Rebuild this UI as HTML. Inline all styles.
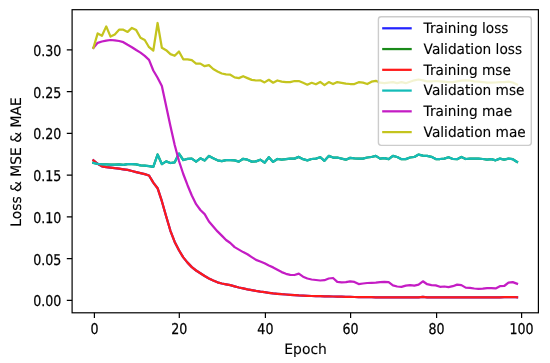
<!DOCTYPE html>
<html><head><meta charset="utf-8"><title>Loss plot</title>
<style>html,body{margin:0;padding:0;background:#fff;width:550px;height:363px;overflow:hidden}svg{display:block}</style>
</head><body>
<svg width="550" height="363" viewBox="0 0 550 363"><rect x="0" y="0" width="550" height="363" fill="#fff"/><g><defs><clipPath id="ax"><rect x="72.1" y="9.7" width="466.29999999999995" height="303.1"/></clipPath></defs>
<g clip-path="url(#ax)" fill="none" stroke-width="2.25" stroke-linejoin="round" stroke-linecap="square">
<polyline stroke="#2424ff" points="93.40,160.30 97.68,163.80 101.96,166.30 106.24,167.10 110.52,167.60 114.80,168.20 119.07,168.70 123.35,169.30 127.63,169.90 131.91,171.00 136.19,172.10 140.47,173.10 144.75,174.20 149.03,175.50 153.31,182.60 157.59,188.20 161.86,201.20 166.14,216.30 170.42,230.80 174.70,241.90 178.98,250.20 183.26,257.40 187.54,262.60 191.82,267.10 196.10,270.50 200.38,273.30 204.65,276.00 208.93,278.40 213.21,280.50 217.49,282.30 221.77,283.50 226.05,284.30 230.33,285.20 234.61,286.30 238.89,287.50 243.16,288.40 247.44,289.30 251.72,290.10 256.00,290.90 260.28,291.60 264.56,292.20 268.84,292.80 273.12,293.40 277.40,293.80 281.68,294.20 285.96,294.50 290.23,294.80 294.51,295.10 298.79,295.40 303.07,295.60 307.35,295.80 311.63,296.00 315.91,296.10 320.19,296.20 324.47,296.30 328.75,296.40 333.02,296.50 337.30,296.60 341.58,296.70 345.86,296.80 350.14,296.90 354.42,297.00 358.70,297.10 362.98,297.10 367.26,297.20 371.53,297.20 375.81,297.30 380.09,297.30 384.37,297.30 388.65,297.30 392.93,297.30 397.21,297.30 401.49,297.30 405.77,297.30 410.05,297.30 414.33,297.30 418.60,297.30 422.88,296.80 427.16,297.40 431.44,297.40 435.72,297.40 440.00,297.40 444.28,297.40 448.56,297.40 452.84,297.40 457.12,297.40 461.39,297.40 465.67,297.40 469.95,297.40 474.23,297.40 478.51,297.40 482.79,297.40 487.07,297.40 491.35,297.40 495.63,297.40 499.90,297.40 504.18,297.20 508.46,297.00 512.74,297.00 517.02,297.20"/>
<polyline stroke="#1a8a1a" points="93.40,162.80 97.68,163.80 101.96,164.30 106.24,164.30 110.52,164.60 114.80,164.60 119.07,164.30 123.35,164.90 127.63,164.10 131.91,164.10 136.19,164.30 140.47,165.40 144.75,165.70 149.03,166.10 153.31,166.80 157.59,154.50 161.86,164.10 166.14,161.40 170.42,163.00 174.70,162.30 178.98,153.60 183.26,160.00 187.54,158.90 191.82,158.60 196.10,161.60 200.38,158.30 204.65,160.50 208.93,155.90 213.21,158.30 217.49,160.30 221.77,161.10 226.05,160.10 230.33,160.10 234.61,160.30 238.89,161.60 243.16,158.80 247.44,159.70 251.72,161.60 256.00,161.40 260.28,159.70 264.56,162.70 268.84,157.20 273.12,161.90 277.40,159.00 281.68,159.70 285.96,159.20 290.23,158.60 294.51,158.60 298.79,156.90 303.07,159.20 307.35,160.30 311.63,159.00 315.91,158.60 320.19,157.20 324.47,160.80 328.75,155.90 333.02,157.50 337.30,157.50 341.58,158.60 345.86,159.70 350.14,157.90 354.42,158.30 358.70,158.60 362.98,158.60 367.26,157.50 371.53,157.00 375.81,155.90 380.09,158.60 384.37,158.10 388.65,159.20 392.93,155.90 397.21,157.00 401.49,159.20 405.77,159.10 410.05,157.50 414.33,157.00 418.60,154.60 422.88,155.70 427.16,155.90 431.44,156.80 435.72,159.00 440.00,159.00 444.28,158.60 448.56,157.20 452.84,159.00 457.12,159.20 461.39,157.00 465.67,159.00 469.95,158.60 474.23,158.60 478.51,158.60 482.79,159.00 487.07,159.70 491.35,159.20 495.63,160.30 499.90,158.60 504.18,159.70 508.46,158.60 512.74,159.20 517.02,161.90"/>
<polyline stroke="#ff1a1a" points="93.40,160.30 97.68,163.80 101.96,166.30 106.24,167.10 110.52,167.60 114.80,168.20 119.07,168.70 123.35,169.30 127.63,169.90 131.91,171.00 136.19,172.10 140.47,173.10 144.75,174.20 149.03,175.50 153.31,182.60 157.59,188.20 161.86,201.20 166.14,216.30 170.42,230.80 174.70,241.90 178.98,250.20 183.26,257.40 187.54,262.60 191.82,267.10 196.10,270.50 200.38,273.30 204.65,276.00 208.93,278.40 213.21,280.50 217.49,282.30 221.77,283.50 226.05,284.30 230.33,285.20 234.61,286.30 238.89,287.50 243.16,288.40 247.44,289.30 251.72,290.10 256.00,290.90 260.28,291.60 264.56,292.20 268.84,292.80 273.12,293.40 277.40,293.80 281.68,294.20 285.96,294.50 290.23,294.80 294.51,295.10 298.79,295.40 303.07,295.60 307.35,295.80 311.63,296.00 315.91,296.10 320.19,296.20 324.47,296.30 328.75,296.40 333.02,296.50 337.30,296.60 341.58,296.70 345.86,296.80 350.14,296.90 354.42,297.00 358.70,297.10 362.98,297.10 367.26,297.20 371.53,297.20 375.81,297.30 380.09,297.30 384.37,297.30 388.65,297.30 392.93,297.30 397.21,297.30 401.49,297.30 405.77,297.30 410.05,297.30 414.33,297.30 418.60,297.30 422.88,296.80 427.16,297.40 431.44,297.40 435.72,297.40 440.00,297.40 444.28,297.40 448.56,297.40 452.84,297.40 457.12,297.40 461.39,297.40 465.67,297.40 469.95,297.40 474.23,297.40 478.51,297.40 482.79,297.40 487.07,297.40 491.35,297.40 495.63,297.40 499.90,297.40 504.18,297.20 508.46,297.00 512.74,297.00 517.02,297.20"/>
<polyline stroke="#14bcb8" points="93.40,162.80 97.68,163.80 101.96,164.30 106.24,164.30 110.52,164.60 114.80,164.60 119.07,164.30 123.35,164.90 127.63,164.10 131.91,164.10 136.19,164.30 140.47,165.40 144.75,165.70 149.03,166.10 153.31,166.80 157.59,154.50 161.86,164.10 166.14,161.40 170.42,163.00 174.70,162.30 178.98,153.60 183.26,160.00 187.54,158.90 191.82,158.60 196.10,161.60 200.38,158.30 204.65,160.50 208.93,155.90 213.21,158.30 217.49,160.30 221.77,161.10 226.05,160.10 230.33,160.10 234.61,160.30 238.89,161.60 243.16,158.80 247.44,159.70 251.72,161.60 256.00,161.40 260.28,159.70 264.56,162.70 268.84,157.20 273.12,161.90 277.40,159.00 281.68,159.70 285.96,159.20 290.23,158.60 294.51,158.60 298.79,156.90 303.07,159.20 307.35,160.30 311.63,159.00 315.91,158.60 320.19,157.20 324.47,160.80 328.75,155.90 333.02,157.50 337.30,157.50 341.58,158.60 345.86,159.70 350.14,157.90 354.42,158.30 358.70,158.60 362.98,158.60 367.26,157.50 371.53,157.00 375.81,155.90 380.09,158.60 384.37,158.10 388.65,159.20 392.93,155.90 397.21,157.00 401.49,159.20 405.77,159.10 410.05,157.50 414.33,157.00 418.60,154.60 422.88,155.70 427.16,155.90 431.44,156.80 435.72,159.00 440.00,159.00 444.28,158.60 448.56,157.20 452.84,159.00 457.12,159.20 461.39,157.00 465.67,159.00 469.95,158.60 474.23,158.60 478.51,158.60 482.79,159.00 487.07,159.70 491.35,159.20 495.63,160.30 499.90,158.60 504.18,159.70 508.46,158.60 512.74,159.20 517.02,161.90"/>
<polyline stroke="#c41cc4" points="93.40,47.80 97.68,42.80 101.96,41.50 106.24,40.60 110.52,40.00 114.80,40.30 119.07,41.00 123.35,42.20 127.63,44.80 131.91,47.20 136.19,50.00 140.47,52.60 144.75,55.90 149.03,59.80 153.31,70.50 157.59,77.80 161.86,86.00 166.14,106.00 170.42,126.00 174.70,145.00 178.98,161.00 183.26,174.00 187.54,185.20 191.82,195.50 196.10,204.20 200.38,210.00 204.65,214.10 208.93,221.50 213.21,226.50 217.49,231.40 221.77,235.60 226.05,240.00 230.33,243.00 234.61,247.10 238.89,249.60 243.16,252.10 247.44,254.30 251.72,257.10 256.00,259.90 260.28,261.50 264.56,263.30 268.84,265.50 273.12,267.40 277.40,269.80 281.68,272.10 285.96,273.80 290.23,274.80 294.51,275.00 298.79,273.60 303.07,276.70 307.35,278.50 311.63,279.50 315.91,280.00 320.19,280.50 324.47,280.20 328.75,278.50 333.02,278.00 337.30,281.90 341.58,282.40 345.86,282.10 350.14,281.30 354.42,281.90 358.70,284.10 362.98,283.50 367.26,283.00 371.53,282.80 375.81,282.60 380.09,282.10 384.37,281.80 388.65,282.10 392.93,285.40 397.21,286.50 401.49,286.80 405.77,285.70 410.05,285.10 414.33,285.70 418.60,284.60 422.88,281.30 427.16,284.20 431.44,285.10 435.72,285.40 440.00,286.80 444.28,286.50 448.56,287.10 452.84,286.20 457.12,284.60 461.39,285.10 465.67,287.60 469.95,287.90 474.23,288.50 478.51,288.80 482.79,288.70 487.07,288.20 491.35,288.20 495.63,288.40 499.90,286.20 504.18,286.00 508.46,282.60 512.74,282.10 517.02,283.70"/>
<polyline stroke="#c4c41e" points="93.40,47.80 97.68,33.40 101.96,35.70 106.24,26.40 110.52,36.60 114.80,34.40 119.07,29.70 123.35,29.70 127.63,31.90 131.91,27.90 136.19,30.10 140.47,37.80 144.75,40.00 149.03,47.20 153.31,50.50 157.59,23.00 161.86,47.70 166.14,50.20 170.42,54.10 174.70,55.80 178.98,51.50 183.26,59.30 187.54,59.30 191.82,60.20 196.10,63.60 200.38,63.60 204.65,66.20 208.93,65.10 213.21,69.00 217.49,71.40 221.77,73.50 226.05,74.30 230.33,74.70 234.61,77.40 238.89,78.10 243.16,76.20 247.44,78.10 251.72,79.90 256.00,80.50 260.28,80.30 264.56,82.40 268.84,79.80 273.12,82.70 277.40,80.50 281.68,81.70 285.96,82.20 290.23,82.20 294.51,81.00 298.79,81.00 303.07,82.80 307.35,84.70 311.63,82.80 315.91,84.30 320.19,81.90 324.47,85.20 328.75,82.10 333.02,84.10 337.30,82.10 341.58,82.80 345.86,83.70 350.14,84.00 354.42,84.00 358.70,82.20 362.98,82.70 367.26,84.00 371.53,81.70 375.81,80.80 380.09,82.70 384.37,83.20 388.65,82.70 392.93,82.20 397.21,83.20 401.49,82.20 405.77,83.20 410.05,81.70 414.33,80.30 418.60,79.50 422.88,80.30 427.16,81.30 431.44,81.30 435.72,81.00 440.00,81.30 444.28,81.70 448.56,82.20 452.84,82.20 457.12,81.30 461.39,80.70 465.67,80.30 469.95,80.70 474.23,81.30 478.51,81.70 482.79,82.20 487.07,82.70 491.35,82.70 495.63,82.50 499.90,82.20 504.18,82.20 508.46,81.70 512.74,82.50 517.02,84.60"/>
</g>
<rect x="72.1" y="9.7" width="466.29999999999995" height="303.1" fill="none" stroke="#000" stroke-width="1.2" stroke-linejoin="miter"/>
<path d="M94.40,312.8v5.3M179.30,312.8v5.3M265.40,312.8v5.3M350.60,312.8v5.3M436.60,312.8v5.3M521.60,312.8v5.3M72.1,300.30h-5.3M72.1,258.55h-5.3M72.1,216.80h-5.3M72.1,175.05h-5.3M72.1,133.30h-5.3M72.1,91.55h-5.3M72.1,49.80h-5.3" stroke="#000" stroke-width="1.2" fill="none"/>
<g font-family="DejaVu Sans, Liberation Sans, sans-serif" font-size="13.89" fill="#000" stroke="#000" stroke-width="0.25" text-rendering="geometricPrecision"><text transform="translate(94.40,334.00) scale(0.91,1.07)" text-anchor="middle">0</text><text transform="translate(179.30,334.00) scale(0.91,1.07)" text-anchor="middle">20</text><text transform="translate(265.40,334.00) scale(0.91,1.07)" text-anchor="middle">40</text><text transform="translate(350.60,334.00) scale(0.91,1.07)" text-anchor="middle">60</text><text transform="translate(436.60,334.00) scale(0.91,1.07)" text-anchor="middle">80</text><text transform="translate(521.60,334.00) scale(0.91,1.07)" text-anchor="middle">100</text><text transform="translate(61.40,306.30) scale(0.91,1.07)" text-anchor="end">0.00</text><text transform="translate(61.40,264.55) scale(0.91,1.07)" text-anchor="end">0.05</text><text transform="translate(61.40,222.80) scale(0.91,1.07)" text-anchor="end">0.10</text><text transform="translate(61.40,181.05) scale(0.91,1.07)" text-anchor="end">0.15</text><text transform="translate(61.40,139.30) scale(0.91,1.07)" text-anchor="end">0.20</text><text transform="translate(61.40,97.55) scale(0.91,1.07)" text-anchor="end">0.25</text><text transform="translate(61.40,55.80) scale(0.91,1.07)" text-anchor="end">0.30</text><text transform="translate(305.60,353.80) scale(1.0,1.04)" text-anchor="middle" stroke-width="0.12">Epoch</text><text transform="translate(21.00,162.00) rotate(-90) scale(1.0,1.04)" text-anchor="middle" stroke-width="0.12">Loss &amp; MSE &amp; MAE</text></g>
<rect x="378.4" y="16.7" width="152.89999999999998" height="128.70000000000002" rx="2.78" ry="2.78" fill="#fff" fill-opacity="0.8" stroke="#cccccc" stroke-width="1.39"/>
<line x1="383.3" y1="28.30" x2="410.6" y2="28.30" stroke="#2424ff" stroke-width="2.25" stroke-linecap="square"/>
<g font-family="DejaVu Sans, Liberation Sans, sans-serif" font-size="13.89" fill="#000" stroke="#000" stroke-width="0.12" text-rendering="geometricPrecision"><text transform="translate(423.60,33.20) scale(0.987,1.04)">Training loss</text></g>
<line x1="383.3" y1="49.06" x2="410.6" y2="49.06" stroke="#1a8a1a" stroke-width="2.25" stroke-linecap="square"/>
<g font-family="DejaVu Sans, Liberation Sans, sans-serif" font-size="13.89" fill="#000" stroke="#000" stroke-width="0.12" text-rendering="geometricPrecision"><text transform="translate(423.60,53.96) scale(0.987,1.04)">Validation loss</text></g>
<line x1="383.3" y1="69.82" x2="410.6" y2="69.82" stroke="#ff1a1a" stroke-width="2.25" stroke-linecap="square"/>
<g font-family="DejaVu Sans, Liberation Sans, sans-serif" font-size="13.89" fill="#000" stroke="#000" stroke-width="0.12" text-rendering="geometricPrecision"><text transform="translate(423.60,74.72) scale(0.987,1.04)">Training mse</text></g>
<line x1="383.3" y1="90.58" x2="410.6" y2="90.58" stroke="#14bcb8" stroke-width="2.25" stroke-linecap="square"/>
<g font-family="DejaVu Sans, Liberation Sans, sans-serif" font-size="13.89" fill="#000" stroke="#000" stroke-width="0.12" text-rendering="geometricPrecision"><text transform="translate(423.60,95.48) scale(0.987,1.04)">Validation mse</text></g>
<line x1="383.3" y1="111.34" x2="410.6" y2="111.34" stroke="#c41cc4" stroke-width="2.25" stroke-linecap="square"/>
<g font-family="DejaVu Sans, Liberation Sans, sans-serif" font-size="13.89" fill="#000" stroke="#000" stroke-width="0.12" text-rendering="geometricPrecision"><text transform="translate(423.60,116.24) scale(0.987,1.04)">Training mae</text></g>
<line x1="383.3" y1="132.10" x2="410.6" y2="132.10" stroke="#c4c41e" stroke-width="2.25" stroke-linecap="square"/>
<g font-family="DejaVu Sans, Liberation Sans, sans-serif" font-size="13.89" fill="#000" stroke="#000" stroke-width="0.12" text-rendering="geometricPrecision"><text transform="translate(423.60,137.00) scale(0.987,1.04)">Validation mae</text></g></g></svg>
</body></html>
